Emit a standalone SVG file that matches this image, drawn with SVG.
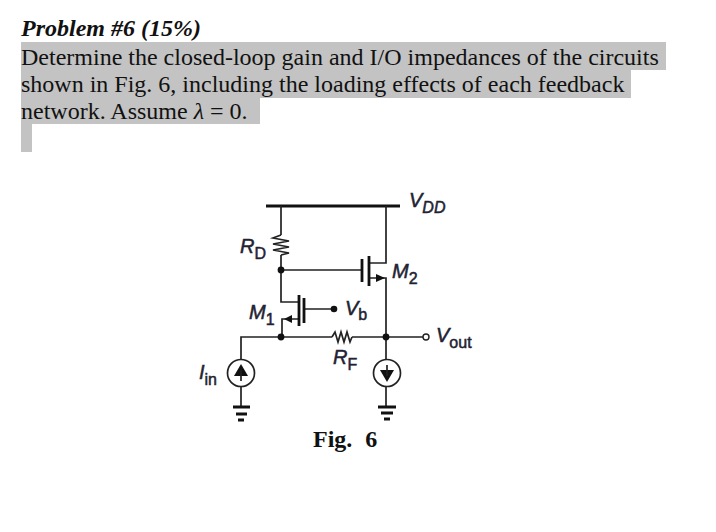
<svg xmlns="http://www.w3.org/2000/svg" width="716" height="532" viewBox="0 0 716 532">
<style>
.b{font-family:"Liberation Serif",serif;font-size:24px;fill:#111}
.s{font-family:"Liberation Sans",sans-serif;fill:#223;font-size:20px;font-style:italic;stroke:#223;stroke-width:.5}
.u{font-size:16px}
.n{font-style:normal}
.w{fill:none;stroke:#222;stroke-width:1.7}
.t{fill:none;stroke:#111;stroke-width:2.8}
.d{fill:#111}
</style>
<rect width="716" height="532" fill="#fff"/>
<g id="text-block">
<rect x="21" y="42" width="645" height="28" fill="#c3c3c3"/>
<rect x="21" y="70" width="610" height="28" fill="#c3c3c3"/>
<rect x="21" y="98" width="239" height="26" fill="#c3c3c3"/>
<rect x="21" y="124" width="11" height="28" fill="#c3c3c3"/>
<text class="b" x="21" y="36" font-weight="bold" font-style="italic">Problem #6 (15%)</text>
<text class="b" x="21" y="65">Determine the closed-loop gain and I/O impedances of the circuits</text>
<text class="b" x="21" y="92">shown in Fig. 6, including the loading effects of each feedback</text>
<text class="b" x="21" y="119">network. Assume <tspan font-style="italic">λ</tspan> = 0.</text>
<text class="b" x="313" y="447" font-weight="bold">Fig.<tspan dx="13">6</tspan></text>
</g>
<g id="connectors">
<path class="t" d="M266 206H400"/>
<path class="w" d="M281 206V235M281 255V302H299M281 270H362M386 206V263H369M369 278H386V407M299 319H282V337M241 407V337H332M352 337H426M304 309H332"/>
<path class="w" d="M281 235l-8 3 16 3-16 3 16 3-16 3 16 3-8 2"/>
<path class="w" d="M332 337l3-5 3 10 3-10 3 10 3-10 3 10 2-5"/>
</g>
<g id="M1">
<path class="t" d="M299 295V326M304 298V323"/>
<path class="d" d="M284 319l8-4v8z"/>
<circle class="d" cx="334" cy="309" r="3.3"/>
</g>
<g id="M2">
<path class="t" d="M362 259V282M369 256V286"/>
<path class="d" d="M385 278l-9-4v8z"/>
</g>
<g id="junctions">
<circle class="d" cx="281" cy="270" r="3.4"/>
<circle class="d" cx="281" cy="337" r="3.4"/>
<circle class="d" cx="386" cy="337" r="3.4"/>
<circle cx="426" cy="337" r="3" fill="#fff" stroke="#222" stroke-width="1.4"/>
</g>
<g id="Iin">
<circle cx="241" cy="373" r="13.5" fill="#fff" stroke="#222" stroke-width="1.7"/>
<path class="d" d="M241 364l-7 12h14z"/><path class="w" d="M241 370v11"/>
<path class="t" d="M233 407H250M236 414H247M238 420H244"/>
</g>
<g id="Iout">
<circle cx="387" cy="373" r="13.5" fill="#fff" stroke="#222" stroke-width="1.7"/>
<path class="d" d="M387 382l-7-12h14z"/><path class="w" d="M387 365v11"/>
<path class="t" d="M378 407H396M381 413H393M384 419H390"/>
</g>
<g id="labels">
<text class="s" x="240" y="253">R<tspan class="u n" dy="6">D</tspan></text>
<text class="s" x="409" y="207">V<tspan class="u" dy="6">DD</tspan></text>
<text class="s" x="392" y="278">M<tspan class="u n" dy="6">2</tspan></text>
<text class="s" x="249" y="319">M<tspan class="u n" dy="6">1</tspan></text>
<text class="s" x="345" y="315">V<tspan class="u n" dy="5">b</tspan></text>
<text class="s" x="333" y="364">R<tspan class="u n" dy="6">F</tspan></text>
<text class="s" x="436" y="342">V<tspan class="u n" dy="6">out</tspan></text>
<text class="s" x="199" y="379">I<tspan class="u n" dy="6">in</tspan></text>
</g>
</svg>
